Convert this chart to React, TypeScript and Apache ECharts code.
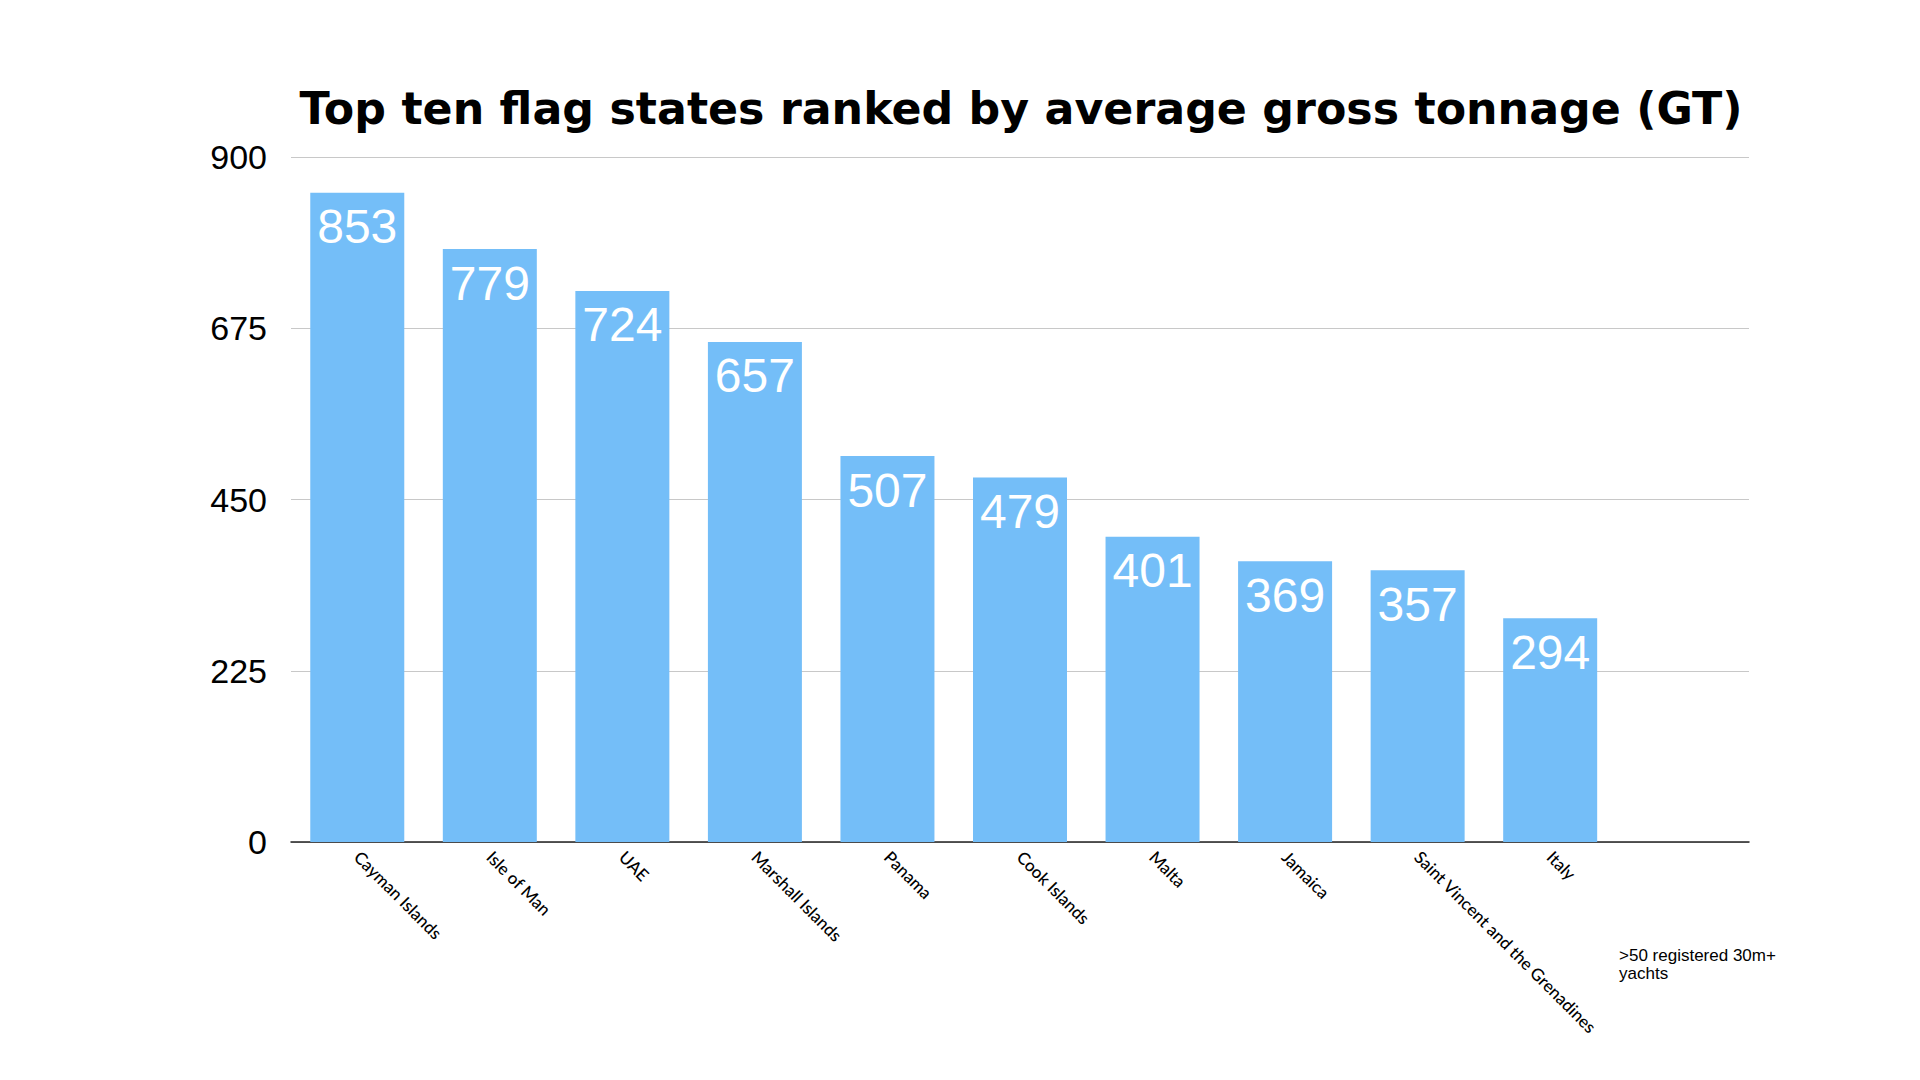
import React, { useEffect, useRef } from "react";
import * as echarts from "echarts";

const categories = [
  "Cayman Islands",
  "Isle of Man",
  "UAE",
  "Marshall Islands",
  "Panama",
  "Cook Islands",
  "Malta",
  "Jamaica",
  "Saint Vincent and the Grenadines",
  "Italy",
  "",
];
const values: (number | null)[] = [853, 779, 724, 657, 507, 479, 401, 369, 357, 294, null];
const yTicks = { min: 0, max: 900, interval: 225 };
const titleText = "Top ten flag states ranked by average gross tonnage (GT)";
const noteText = ">50 registered 30m+\nyachts";

export default function App() {
  const ref = useRef<HTMLDivElement>(null);
  useEffect(() => {
    if (!ref.current) return;
    const chart = echarts.init(ref.current, undefined, { renderer: "svg" });
    chart.setOption({
      animation: false,
      backgroundColor: "#ffffff",
      title: {
        text: titleText,
        left: 1008,
        top: 73,
        textAlign: "center",
        textStyle: {
          fontFamily: "DejaVu Sans",
          fontWeight: "bold",
          fontSize: 44.3,
          color: "#000000",
        },
      },
      grid: { left: 283, right: 163, top: 149, bottom: 230, containLabel: false },
      xAxis: {
        type: "category",
        data: categories,
        axisLine: { show: true, lineStyle: { color: "#222222", width: 1.5 } },
        axisTick: { show: false },
        axisLabel: {
          interval: 0,
          rotate: -45,
          margin: 12,
          fontFamily: "Lato",
          fontWeight: 500,
          fontSize: 17,
          color: "#000000",
        },
      },
      yAxis: {
        type: "value",
        min: yTicks.min,
        max: yTicks.max,
        interval: yTicks.interval,
        axisLine: { show: false },
        axisTick: { show: false },
        splitLine: { lineStyle: { color: "#c8c8c8", width: 1 } },
        axisLabel: {
          margin: 24,
          fontFamily: "Liberation Sans",
          fontSize: 34,
          color: "#000000",
        },
      },
      series: [
        {
          type: "bar",
          data: values,
          barWidth: 94,
          itemStyle: { color: "#74bef8" },
          label: {
            show: true,
            position: "insideTop",
            distance: 10,
            fontFamily: "Liberation Sans",
            fontSize: 48,
            color: "#ffffff",
          },
        },
      ],
      graphic: [
        {
          type: "text",
          left: 1611,
          top: 938,
          style: {
            text: noteText,
            fontFamily: "Liberation Sans",
            fontSize: 17,
            lineHeight: 18,
            fill: "#000000",
          },
        },
      ],
    });
    return () => chart.dispose();
  }, []);
  return <div ref={ref} style={{ width: 1904, height: 1064 }} />;
}
